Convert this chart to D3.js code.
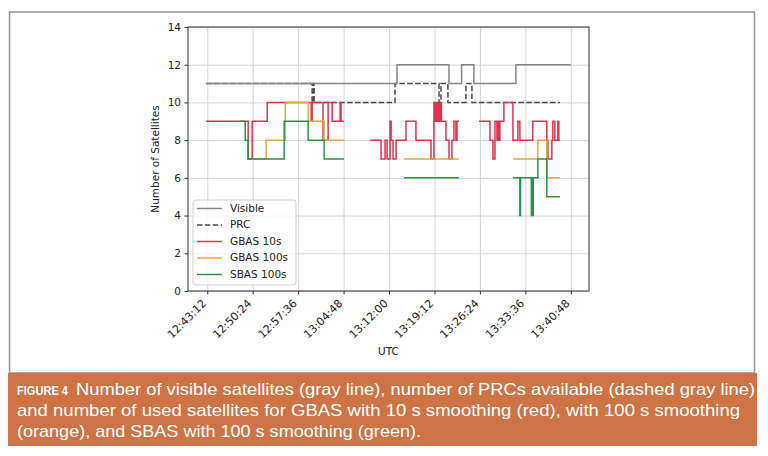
<!DOCTYPE html>
<html>
<head>
<meta charset="utf-8">
<title>Figure 4 - satellites used</title>
<script src="https://d3js.org/d3.v7.min.js"></script>
<style>
  body { margin: 0; background: #fff; }
  svg text { font-family: "DejaVu Sans", sans-serif; }
  .grid line { stroke: #d4d4d4; stroke-width: 1; }
  .grid path { display: none; }
  .axis path { display: none; }
  .axis line { stroke: #333; }
  .axis text { font-size: 10.5px; fill: #222; }
  .caption { font-family: "Liberation Sans Narrow", "Liberation Sans", "Open Sans", sans-serif; fill: #fff; font-size: 17px; }
</style>
</head>
<body>
<svg id="fig" width="768" height="456"></svg>
<script>
  // x axis: time of day (UTC)
  var xDomain = ["12:40:09", "13:43:41"];
  var xTickLabels = ["12:43:12", "12:50:24", "12:57:36", "13:04:48", "13:12:00",
                     "13:19:12", "13:26:24", "13:33:36", "13:40:48"];
  var yTicks = [0, 2, 4, 6, 8, 10, 12, 14];

  var seriesNames = ["Visible", "PRC", "GBAS 10s", "GBAS 100s", "SBAS 100s"];

  var visibleTime = ["12:43:02", "13:13:16", "13:21:30", "13:23:30", "13:25:27", "13:32:06", "13:40:48"];
  var visibleVal  = [11, 12, 11, 12, 11, 12, 12];

  var prcTime = ["12:43:02", "12:59:49", "12:59:58", "13:00:08", "13:12:57", "13:19:55",
                 "13:20:14", "13:21:20", "13:24:11", "13:25:08", "13:39:04"];
  var prcVal  = [11, 10, 11, 10, 11, 10, 11, 10, 11, 10, 10];

  // null = no solution (gap)
  var gbas10Time = [
    "12:43:02", "12:49:41", "12:50:19", "12:52:42", "12:59:40", "12:59:49", "13:01:33", "13:02:21",
    "13:03:00", "13:04:15", "13:04:24", "13:04:53", "13:04:53",
    "13:09:00", "13:10:44", "13:11:22", "13:11:41", "13:12:10", "13:12:20", "13:12:38", "13:13:07",
    "13:14:41", "13:16:16", "13:18:39", "13:19:07", "13:19:14", "13:19:20", "13:19:27", "13:19:33",
    "13:19:40", "13:19:46", "13:19:53", "13:19:59", "13:20:06", "13:20:12", "13:20:18", "13:21:01",
    "13:21:30", "13:21:58", "13:22:17", "13:22:36", "13:22:46", "13:23:05", "13:23:05",
    "13:26:15", "13:28:00", "13:28:28", "13:28:47", "13:29:06", "13:29:15", "13:29:25", "13:29:34",
    "13:30:12", "13:31:38", "13:32:25", "13:32:44", "13:34:47", "13:37:00", "13:37:10", "13:37:48",
    "13:37:57", "13:38:16", "13:38:45", "13:38:54", "13:39:04"];
  var gbas10Val = [
    9, 7, 9, 10, 9, 10, 8, 10,
    9, 10, 9, 9, null,
    8, 7, 8, 7, 9, 8, 7, 8,
    9, 8, 7, 10, 9, 10, 9, 10,
    9, 10, 9, 10, 9, 10, 9, 8,
    7, 8, 9, 8, 9, 9, null,
    9, 8, 7, 9, 8, 9, 8, 9,
    10, 8, 9, 8, 9, 8, 7, 8,
    9, 8, 9, 8, 8];

  var gbas100Time = ["12:49:41", "12:52:32", "12:55:33", "12:59:11", "13:01:43", "13:04:53", "13:04:53",
                     "13:14:22", "13:23:05", "13:23:05",
                     "13:31:38", "13:35:35", "13:37:00", "13:39:04"];
  var gbas100Val  = [7, 8, 10, 9, 8, 8, null,
                     7, 7, null,
                     7, 8, 6, 6];

  var sbas100Time = ["12:48:25", "12:49:13", "12:49:41", "12:55:23", "12:59:11", "13:01:43", "13:04:53", "13:04:53",
                     "13:14:22", "13:23:05", "13:23:05",
                     "13:31:38", "13:32:44", "13:32:50", "13:34:33", "13:34:39", "13:34:45", "13:34:51",
                     "13:34:57", "13:35:35", "13:37:00", "13:39:04"];
  var sbas100Val  = [9, 8, 7, 9, 8, 7, 7, null,
                     6, 6, null,
                     6, 4, 6, 4, 6, 4, 6,
                     6, 7, 5, 5];

  var captionLines = [
    "Number of visible satellites (gray line), number of PRCs available (dashed gray line)",
    "and number of used satellites for GBAS with 10 s smoothing (red), with 100 s smoothing",
    "(orange), and SBAS with 100 s smoothing (green)."
  ];

  function toSec(s) {
    var p = s.split(":");
    return (+p[0]) * 3600 + (+p[1]) * 60 + (+p[2]);
  }
  function zip(times, vals) {
    return times.map(function(t, i) { return { t: toSec(t), v: vals[i] }; });
  }

  var series = [
    { name: seriesNames[1], data: zip(prcTime, prcVal), color: "#4a4a4a", dash: "5.5,2.4" },
    { name: seriesNames[0], data: zip(visibleTime, visibleVal), color: "#858585", dash: null },
    { name: seriesNames[2], data: zip(gbas10Time, gbas10Val), color: "#e3324b", dash: null },
    { name: seriesNames[3], data: zip(gbas100Time, gbas100Val), color: "#e8a838", dash: null },
    { name: seriesNames[4], data: zip(sbas100Time, sbas100Val), color: "#2a9444", dash: null }
  ];
  var legendOrder = [1, 0, 2, 3, 4];

  var svg = d3.select("#fig");

  // outer frame + caption band
  svg.append("rect").attr("x", 9.5).attr("y", 12).attr("width", 745).attr("height", 361)
    .attr("fill", "#fff").attr("stroke", "#9c9c9c").attr("stroke-width", 1.6);
  svg.append("rect").attr("x", 8).attr("y", 373).attr("width", 749).attr("height", 73)
    .attr("fill", "#cd7345");

  var plotL = 188, plotR = 589, plotT = 27, plotB = 291;

  var x = d3.scaleLinear().domain(xDomain.map(toSec)).range([plotL, plotR]);
  var y = d3.scaleLinear().domain([0, 14]).range([plotB, plotT]);
  var xTickVals = xTickLabels.map(toSec);

  // grid
  svg.append("g").attr("class", "grid")
    .attr("transform", "translate(0," + plotB + ")")
    .call(d3.axisBottom(x).tickValues(xTickVals).tickSize(-(plotB - plotT)).tickFormat(""));
  svg.append("g").attr("class", "grid")
    .attr("transform", "translate(" + plotL + ",0)")
    .call(d3.axisLeft(y).tickValues(yTicks).tickSize(-(plotR - plotL)).tickFormat(""));

  // axes
  svg.append("g").attr("class", "axis")
    .attr("transform", "translate(" + plotL + ",0)")
    .call(d3.axisLeft(y).tickValues(yTicks).tickSize(3.5).tickPadding(3.5));

  var xAxis = svg.append("g").attr("class", "axis")
    .attr("transform", "translate(0," + plotB + ")")
    .call(d3.axisBottom(x).tickValues(xTickVals).tickSize(3.5)
      .tickFormat(function(d, i) { return xTickLabels[i]; }));
  xAxis.selectAll("text")
    .style("font-size", "11px")
    .attr("text-anchor", "end")
    .attr("dominant-baseline", "middle")
    .attr("y", 0).attr("dy", null)
    .attr("transform", "translate(-3,11) rotate(-45)");

  // series lines
  var line = d3.line()
    .defined(function(d) { return d.v != null; })
    .x(function(d) { return x(d.t); })
    .y(function(d) { return y(d.v); })
    .curve(d3.curveStepAfter);

  svg.append("g").selectAll("path")
    .data(series)
    .join("path")
      .attr("d", function(d) { return line(d.data); })
      .attr("fill", "none")
      .attr("stroke", function(d) { return d.color; })
      .attr("stroke-width", 1.5)
      .attr("stroke-dasharray", function(d) { return d.dash; });

  // spines
  svg.append("rect").attr("x", plotL).attr("y", plotT)
    .attr("width", plotR - plotL).attr("height", plotB - plotT)
    .attr("fill", "none").attr("stroke", "#333").attr("stroke-width", 1);

  // axis titles
  svg.append("text")
    .attr("transform", "translate(156," + ((plotT + plotB) / 2) + ") rotate(-90)")
    .attr("text-anchor", "middle").attr("dominant-baseline", "middle")
    .style("font-size", "10.5px").attr("fill", "#222")
    .text("Number of Satellites");
  svg.append("text")
    .attr("x", (plotL + plotR) / 2).attr("y", 355)
    .attr("text-anchor", "middle")
    .style("font-size", "10.5px").attr("fill", "#222")
    .text("UTC");

  // legend
  var lg = svg.append("g");
  lg.append("rect").attr("x", 193).attr("y", 200).attr("width", 103).attr("height", 85)
    .attr("rx", 3).attr("fill", "#fff").attr("fill-opacity", 0.8)
    .attr("stroke", "#d0d0d0");
  legendOrder.forEach(function(k, i) {
    var s = series[k], yy = 208.5 + i * 16.5;
    lg.append("line").attr("x1", 197).attr("x2", 222).attr("y1", yy).attr("y2", yy)
      .attr("stroke", s.color).attr("stroke-width", 1.5)
      .attr("stroke-dasharray", s.dash);
    lg.append("text").attr("x", 230).attr("y", yy)
      .attr("dominant-baseline", "middle")
      .style("font-size", "10.5px").attr("fill", "#222")
      .text(s.name);
  });

  // caption
  svg.append("text").attr("class", "caption")
    .attr("x", 17).attr("y", 395)
    .attr("textLength", 51).attr("lengthAdjust", "spacingAndGlyphs")
    .style("font-size", "13px").style("font-weight", "bold").attr("fill", "#f7d27c")
    .text("FIGURE 4");
  var capX = [76, 17, 17], capW = [679, 723, 404];
  captionLines.forEach(function(t, i) {
    svg.append("text").attr("class", "caption")
      .attr("x", capX[i]).attr("y", 395 + i * 21)
      .attr("textLength", capW[i]).attr("lengthAdjust", "spacingAndGlyphs")
      .text(t);
  });
</script>
</body>
</html>
